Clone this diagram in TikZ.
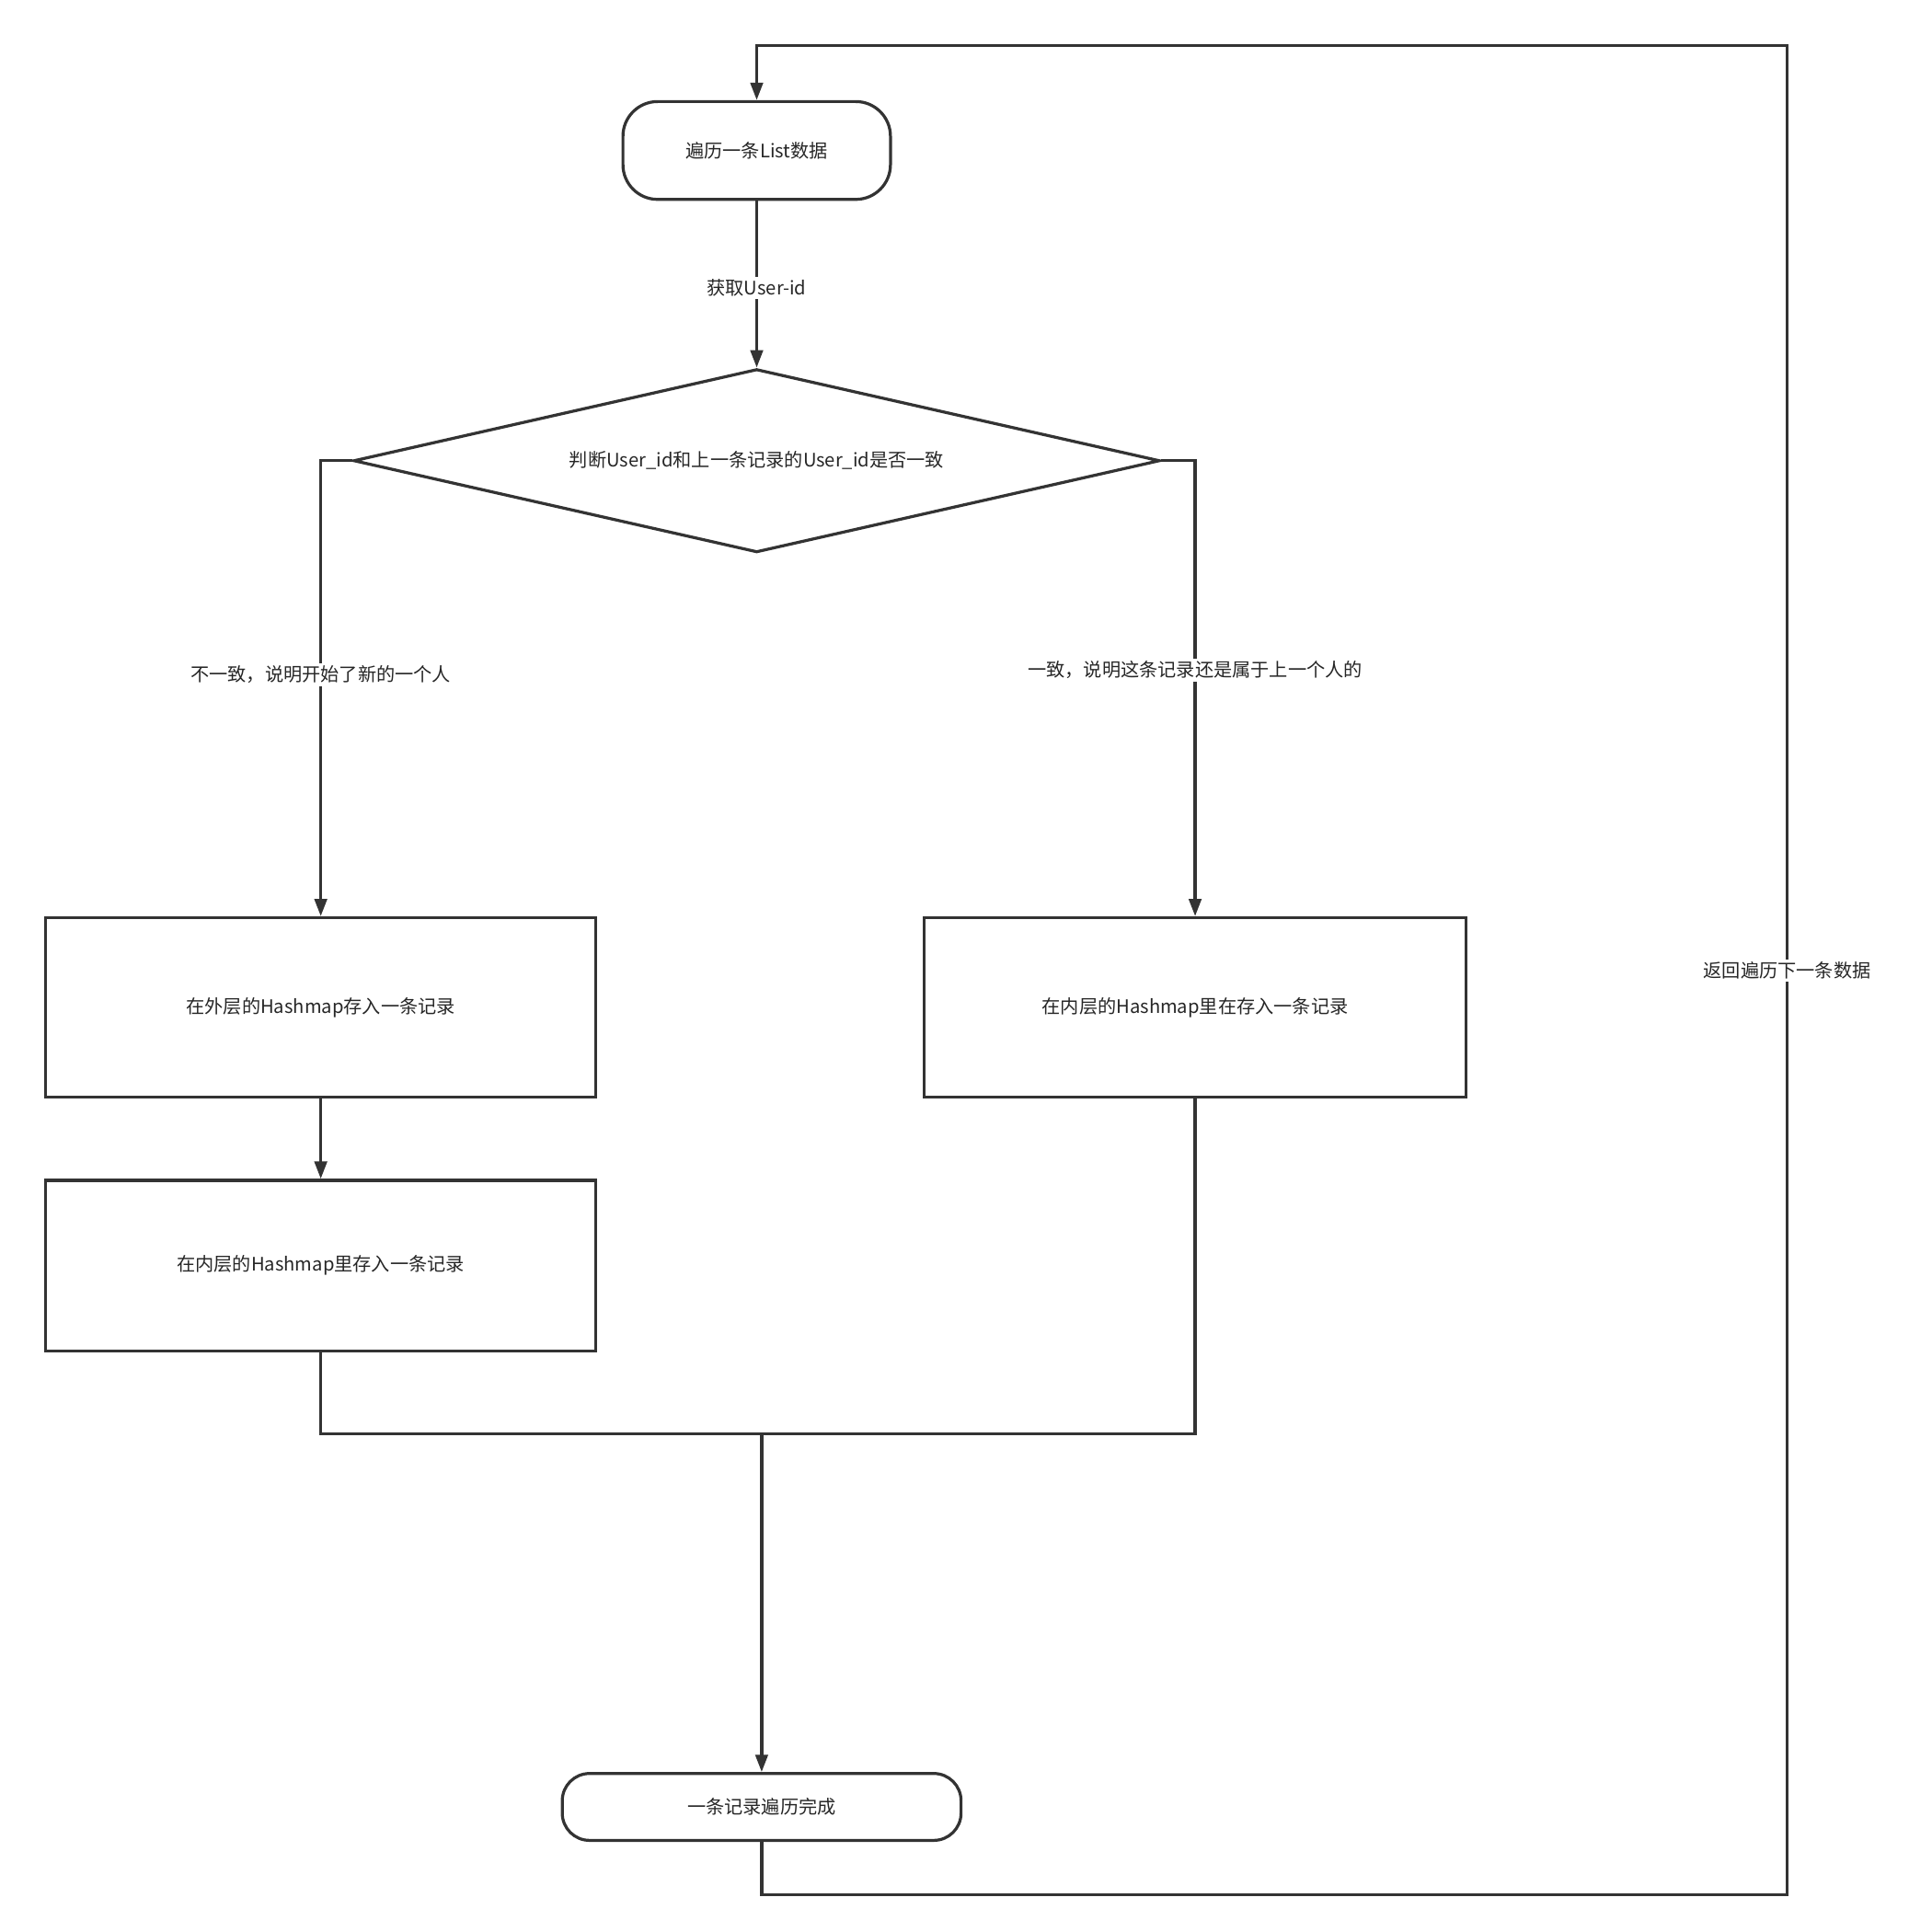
\documentclass[tikz,border=0pt]{standalone}
\usepackage{fontspec}
\setmainfont{Noto Sans CJK SC}
\usetikzlibrary{arrows.meta,shapes.geometric}
\begin{document}
\begin{tikzpicture}[x=1pt,y=-1pt,
  every node/.style={font=\fontsize{15}{17}\selectfont,text=black!85},
  ln/.style={draw=black!80,line width=2.4pt},
  arr/.style={ln,-{Triangle[length=14pt,width=10pt]}},
  term/.style={ln,rounded corners=28pt,minimum width=216pt,minimum height=79pt},
  boxx/.style={ln,minimum width=444pt},
  lbl/.style={fill=white,inner sep=2pt}]
\useasboundingbox (0,0) rectangle (1560,1560);
\node[term] (s) at (611,121.5) {遍历一条List数据};
\node[ln,diamond,aspect=4.4,minimum width=651pt,minimum height=148pt,inner sep=0pt] (d) at (611,372) {判断User\_id和上一条记录的User\_id是否一致};
\node[boxx,minimum height=145pt] (b1) at (259,813.5) {在外层的Hashmap存入一条记录};
\node[boxx,minimum height=138pt] (b2) at (259,1022) {在内层的Hashmap里存入一条记录};
\node[ln,minimum width=438pt,minimum height=145pt] (b3) at (965,813.5) {在内层的Hashmap里在存入一条记录};
\node[ln,rounded corners=22pt,minimum width=322pt,minimum height=54pt] (e) at (615,1459) {一条记录遍历完成};
\draw[arr] (s) -- node[lbl,pos=0.52]{获取User-id} (d);
\draw[arr] (d.west) -- (259,372) -- node[lbl,pos=0.47]{不一致，说明开始了新的一个人} (b1.north);
\draw[arr] (d.east) -- (965,372) -- node[lbl,pos=0.46]{一致，说明这条记录还是属于上一个人的} (b3.north);
\draw[arr] (b1) -- (b2);
\coordinate (m) at (615,1158);
\draw[ln] (b2.south) -- (259,1158) -- (965,1158) -- (b3.south);
\draw[arr] (m) -- (e.north);
\draw[arr] (e.south) -- (615,1530) -- (1443,1530) -- node[lbl,pos=0.5]{返回遍历下一条数据} (1443,37) -- (611,37) -- (s.north);
\end{tikzpicture}
\end{document}
